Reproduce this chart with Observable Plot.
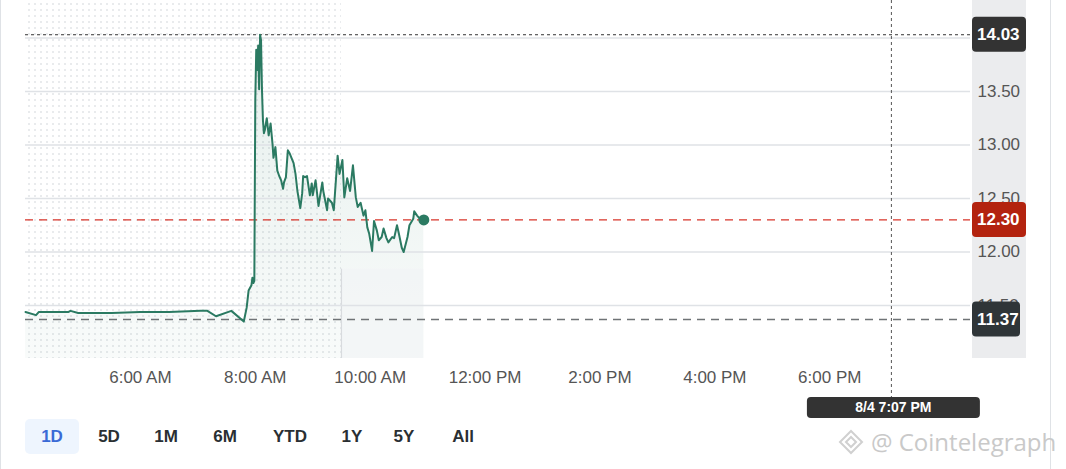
<!DOCTYPE html>
<html>
<head>
<meta charset="utf-8">
<script src="https://cdn.jsdelivr.net/npm/d3@7"></script>
<script src="https://cdn.jsdelivr.net/npm/@observablehq/plot@0.6"></script>
<style>
  html, body { margin: 0; padding: 0; background: #fff; }
  body { width: 1066px; height: 469px; position: relative; overflow: hidden; font-family: "Liberation Sans", Arial, sans-serif; }
  #chart { position: absolute; left: 0; top: 0; }
  .edge { position: absolute; top: 0; bottom: 0; width: 1px; background: #dfe2e6; }
  .btn { position: absolute; top: 419px; height: 35px; line-height: 36px; font-size: 17px; font-weight: 700; color: #2a2f33; text-align: center; transform: translateX(-50%); }
  .btn.active { background: #eef5fe; color: #3a6ad6; border-radius: 5px; width: 54px; }
  #wm { position: absolute; left: 836px; top: 425px; font-family: "Open Sans", sans-serif; font-size: 24px; color: #c9c9c9; display: flex; align-items: center; gap: 5px; white-space: nowrap; }
</style>
</head>
<body>
<div id="chart"></div>
<div class="edge" style="left:0"></div>
<div class="edge" style="left:1050px"></div>
<div id="buttons"></div>
<div id="wm"><svg width="30" height="26" viewBox="0 0 30 26"><g fill="none" stroke="#d0d0d0" stroke-width="2"><path d="M15 2 L26 13 L15 24 L4 13 Z"/><path d="M15 8 L20 13 L15 18 L10 13 Z"/></g></svg><span>@ Cointelegraph</span></div>
<script>
// ---- data ----
const times = ["04:00","04:11","04:14","04:45","04:47","04:55","05:30","06:00","06:30","07:03","07:10","07:19","07:35","07:48","07:51","07:53","07:56","07:57","07:58","07:59",
  "08:00","08:01","08:02","08:03","08:04","08:05","08:06","08:07","08:08","08:09","08:10","08:12","08:14","08:16","08:18","08:19","08:21","08:23","08:25","08:27","08:29","08:30","08:32","08:34","08:36","08:40","08:42","08:44","08:47","08:49","08:50","08:52","08:54","08:57","08:59",
  "09:00","09:03","09:06","09:10","09:11","09:15","09:16","09:20","09:22","09:26","09:28","09:31","09:33","09:36","09:39","09:42","09:45","09:47","09:50","09:53","09:55","09:57","09:59",
  "10:02","10:04","10:07","10:09","10:12","10:14","10:17","10:19","10:23","10:25","10:28","10:30","10:33","10:35","10:39","10:41","10:45","10:46","10:49","10:52","10:56"];
const prices = [11.44,11.41,11.44,11.44,11.45,11.43,11.43,11.44,11.44,11.45,11.45,11.40,11.45,11.35,11.48,11.64,11.69,11.76,11.71,11.73,
  13.42,13.89,13.70,13.93,13.52,14.03,13.98,13.51,13.23,13.11,13.14,13.25,13.09,13.20,13.01,12.88,12.98,12.76,12.71,12.67,12.59,12.65,12.70,12.95,12.92,12.83,12.73,12.57,12.41,12.55,12.71,12.70,12.71,12.53,12.64,
  12.53,12.67,12.43,12.65,12.57,12.39,12.50,12.46,12.39,12.90,12.73,12.86,12.51,12.69,12.57,12.81,12.51,12.42,12.46,12.34,12.39,12.23,12.17,
  12.01,12.29,12.20,12.11,12.14,12.22,12.13,12.09,12.14,12.13,12.25,12.17,12.04,12.00,12.14,12.25,12.31,12.38,12.34,12.31,12.30];
const yTicks = [13.5, 13.0, 12.5, 12.0, 11.5];
const gridLevels = [14.0, 13.5, 13.0, 12.5, 12.0, 11.5];
const xTickTimes = ["06:00","08:00","10:00","12:00","14:00","16:00","18:00"];
const highValue = 14.03;
const lastValue = 12.30;
const prevClose = 11.37;
const crosshairTime = "19:07";
const crosshairLabel = "8/4 7:07 PM";
const premarket = {start: "04:00", end: "09:30"};
const sessionBox = {start: "09:30", end: "10:56", top: 11.84};
const ranges = ["1D","5D","1M","6M","YTD","1Y","5Y","All"];
const rangeCenters = [52, 109, 166, 225, 290, 352, 404, 463];

const T = t => new Date(`2025-08-04T${t}:00`);
const data = times.map((t, i) => ({time: T(t), price: prices[i]}));
const yMin = 11.005, yMax = 14.35;
const last = data[data.length - 1];

const plot = Plot.plot({
  width: 1066, height: 469,
  marginLeft: 25, marginRight: 96, marginTop: 0, marginBottom: 111,
  style: {fontFamily: "Liberation Sans, Arial, sans-serif", background: "transparent", overflow: "visible"},
  x: {type: "time", domain: [T("04:00"), T("20:27")]},
  y: {domain: [yMin, yMax]},
  marks: [
    Plot.rect([premarket], {x1: d => T(d.start), x2: d => T(d.end), y1: () => yMin, y2: () => yMax, fill: "url(#dots)"}),
    Plot.areaY(data, {x: "time", y1: () => yMin, y2: "price", fill: "url(#areaGrad)"}),
    Plot.rect([sessionBox], {x1: d => T(d.start), x2: d => T(d.end), y1: () => yMin, y2: d => d.top, fill: "#f2f4f5", fillOpacity: 0.75}),
    Plot.ruleX([sessionBox], {x: d => T(d.start), y1: () => yMin, y2: d => d.top, stroke: "#d8dbde", strokeWidth: 1.2}),
    Plot.ruleY(gridLevels, {stroke: "#dfe2e6", strokeWidth: 1.5}),
    Plot.ruleY([highValue], {stroke: "#333", strokeWidth: 1, strokeDasharray: "3,3"}),
    Plot.ruleY([lastValue], {stroke: "#d8352a", strokeWidth: 1.2, strokeDasharray: "8,6"}),
    Plot.ruleY([prevClose], {stroke: "#6f7376", strokeWidth: 1.5, strokeDasharray: "8,6"}),
    Plot.lineY(data, {x: "time", y: "price", stroke: "#2b7a62", strokeWidth: 2, strokeLinejoin: "round"}),
    Plot.dot([last], {x: "time", y: "price", r: 5.5, fill: "#2b7a62"}),
    Plot.axisX({ticks: xTickTimes.map(T), tickFormat: d3.timeFormat("%-I:%M %p"), tickSize: 0, tickPadding: 12, fontSize: 17, fill: "#555", label: null}),
    Plot.axisY({anchor: "right", ticks: yTicks, tickFormat: d => d.toFixed(2), tickSize: 0, tickPadding: 7, fontSize: 17, fill: "#555", label: null})
  ]
});

const svg = d3.select(plot);
const defs = svg.insert("defs", ":first-child");
const pat = defs.append("pattern").attr("id", "dots").attr("patternUnits", "userSpaceOnUse").attr("width", 6).attr("height", 6).attr("x", 2).attr("y", 1);
pat.append("circle").attr("cx", 3).attr("cy", 3).attr("r", 0.8).attr("fill", "#cdd1d5");
const grad = defs.append("linearGradient").attr("id", "areaGrad").attr("x1", 0).attr("y1", 0).attr("x2", 0).attr("y2", 1);
grad.append("stop").attr("offset", "0%").attr("stop-color", "#2b7a62").attr("stop-opacity", 0.12);
grad.append("stop").attr("offset", "100%").attr("stop-color", "#2b7a62").attr("stop-opacity", 0.03);

const xs = plot.scale("x"), ys = plot.scale("y");
const plotRight = 1066 - 96, plotBottom = ys.apply(yMin);

// grey y-axis panel behind labels
svg.insert("rect", "defs + *").attr("x", plotRight + 2).attr("y", 0).attr("width", 54).attr("height", plotBottom).attr("fill", "#ebecee");

// value badges
function badge(v, color, w) {
  const cy = ys.apply(v);
  svg.append("rect").attr("x", plotRight + 2).attr("y", cy - 17.5).attr("width", w).attr("height", 35).attr("rx", 4).attr("fill", color);
  svg.append("text").attr("x", plotRight + 7).attr("y", cy).attr("dy", "0.35em").attr("fill", "#fff").attr("text-anchor", "start")
    .attr("font-size", 17).attr("font-weight", 700).attr("font-family", "Liberation Sans, Arial, sans-serif").text(v.toFixed(2));
}
badge(highValue, "#333333", 54);
badge(lastValue, "#b3230f", 54);
badge(prevClose, "#2f3538", 48);

// crosshair
const cx = xs.apply(T(crosshairTime));
svg.append("line").attr("x1", cx - 2).attr("x2", cx - 2).attr("y1", 0).attr("y2", 397).attr("stroke", "#555").attr("stroke-dasharray", "3,3");
svg.append("rect").attr("x", cx - 86.5).attr("y", 397).attr("width", 173).attr("height", 21).attr("rx", 4).attr("fill", "#333");
svg.append("text").attr("x", cx).attr("y", 407.5).attr("dy", "0.35em").attr("text-anchor", "middle").attr("fill", "#fff")
  .attr("font-size", 14).attr("font-weight", 700).attr("font-family", "Liberation Sans, Arial, sans-serif").text(crosshairLabel);

document.getElementById("chart").appendChild(plot);

// range buttons
const btns = document.getElementById("buttons");
ranges.forEach((r, i) => {
  const b = document.createElement("div");
  b.className = "btn" + (i === 0 ? " active" : "");
  b.style.left = rangeCenters[i] + "px";
  b.textContent = r;
  btns.appendChild(b);
});
</script>
</body>
</html>
